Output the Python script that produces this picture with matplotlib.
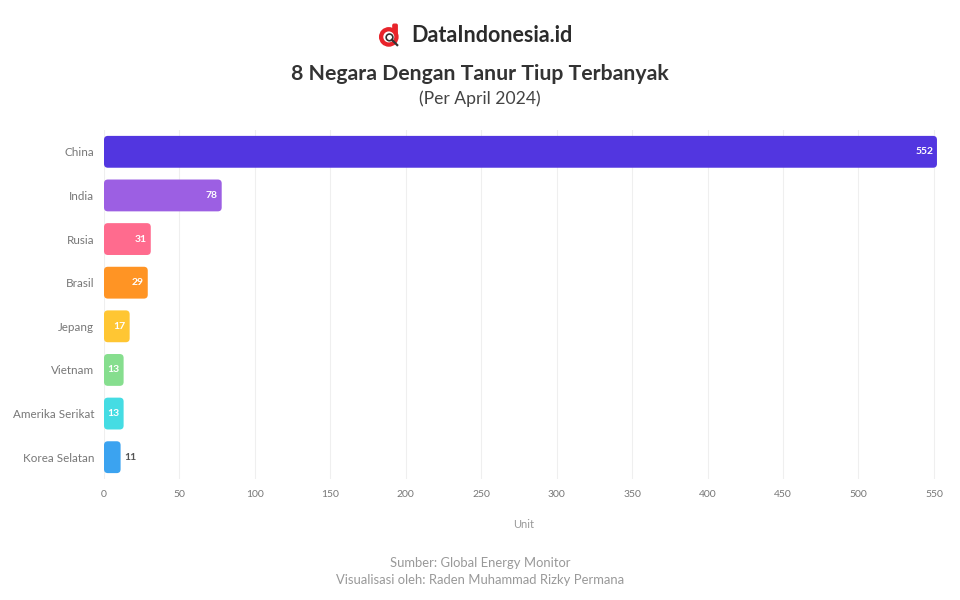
import matplotlib
matplotlib.use("Agg")
import matplotlib.pyplot as plt
from matplotlib.patches import FancyBboxPatch, Circle
import numpy as np

categories = ["China", "India", "Rusia", "Brasil", "Jepang", "Vietnam", "Amerika Serikat", "Korea Selatan"]
values = [552, 78, 31, 29, 17, 13, 13, 11]
colors = ["#5236E0", "#9C5FE3", "#FF6B8E", "#FF9424", "#FFC633", "#86DE8E", "#45DCE3", "#3BA3F0"]
xticks = list(range(0, 551, 50))

plt.rcParams['font.family'] = ['Lato', 'DejaVu Sans']

fig = plt.figure(figsize=(9.6, 6), dpi=100)
fig.patch.set_facecolor("white")
ax = fig.add_axes([104/960, 1-479/600, (943-104)/960, 349/600])

y = np.arange(len(categories))
bars = ax.barh(y, values, height=0.73, color="none")
ax.set_xlim(0, 556)
ax.set_ylim(len(categories)-0.5, -0.5)

rx = 2.6
ry = 0.09
for b, c in zip(bars, colors):
    x0, y0 = b.get_x(), b.get_y()
    w, h = b.get_width(), b.get_height()
    p = FancyBboxPatch((x0, y0), w, h,
                       boxstyle=f"round,pad=0,rounding_size={rx}",
                       mutation_aspect=ry/rx, facecolor=c, edgecolor="none", zorder=3)
    ax.add_patch(p)
    b.remove()

for i, v in enumerate(values):
    if v >= 12:
        ax.text(v - 2.5, i, str(v), ha="right", va="center", color="white",
                fontsize=7.5, fontweight="bold", zorder=4)
    else:
        ax.text(v + 2.5, i, str(v), ha="left", va="center", color="#555555",
                fontsize=7.5, fontweight="bold", zorder=4)

ax.set_yticks(y)
ax.set_yticklabels(categories, fontsize=8.4, color="#777777")
ax.set_xticks(xticks)
ax.set_xticklabels([str(t) for t in xticks], fontsize=7.5, color="#777777")
ax.tick_params(axis="y", length=0, pad=7)
ax.tick_params(axis="x", length=0, pad=8)
ax.grid(axis="x", color="#EFEFEF", linewidth=0.8, zorder=0)
ax.set_axisbelow(True)
for s in ax.spines.values():
    s.set_visible(False)
ax.set_xlabel("Unit", fontsize=8, color="#999999", labelpad=14)

# Header
fig.text(0.5 + 0.012, 1-35/600, "DataIndonesia.id", ha="center", va="center",
         fontsize=15.5, fontweight="bold", color="#2b2b2b")
logo = fig.add_axes([378/960, 1-47/600, 24/960, 24/600])
logo.set_xlim(0, 1); logo.set_ylim(0, 1); logo.axis("off")
logo.add_patch(Circle((0.45, 0.42), 0.38, color="#E8232A"))
logo.add_patch(FancyBboxPatch((0.62, 0.35), 0.18, 0.6, boxstyle="round,pad=0,rounding_size=0.05", color="#E8232A"))
logo.add_patch(Circle((0.45, 0.42), 0.2, color="white"))
logo.add_patch(Circle((0.48, 0.40), 0.14, fill=False, lw=1.2, ec="#333333"))
logo.plot([0.58, 0.8], [0.30, 0.08], color="#333333", lw=1.6)

fig.text(0.5, 1-74/600, "8 Negara Dengan Tanur Tiup Terbanyak", ha="center", va="center",
         fontsize=15.3, fontweight="bold", color="#333333")
fig.text(0.5, 1-99/600, "(Per April 2024)", ha="center", va="center",
         fontsize=12.6, color="#444444")

fig.text(0.5, 1-563/600, "Sumber: Global Energy Monitor", ha="center", va="center",
         fontsize=9.4, color="#999999")
fig.text(0.5, 1-580/600, "Visualisasi oleh: Raden Muhammad Rizky Permana", ha="center", va="center",
         fontsize=9.4, color="#999999")

fig.savefig("out.png", dpi=100, facecolor="white")
